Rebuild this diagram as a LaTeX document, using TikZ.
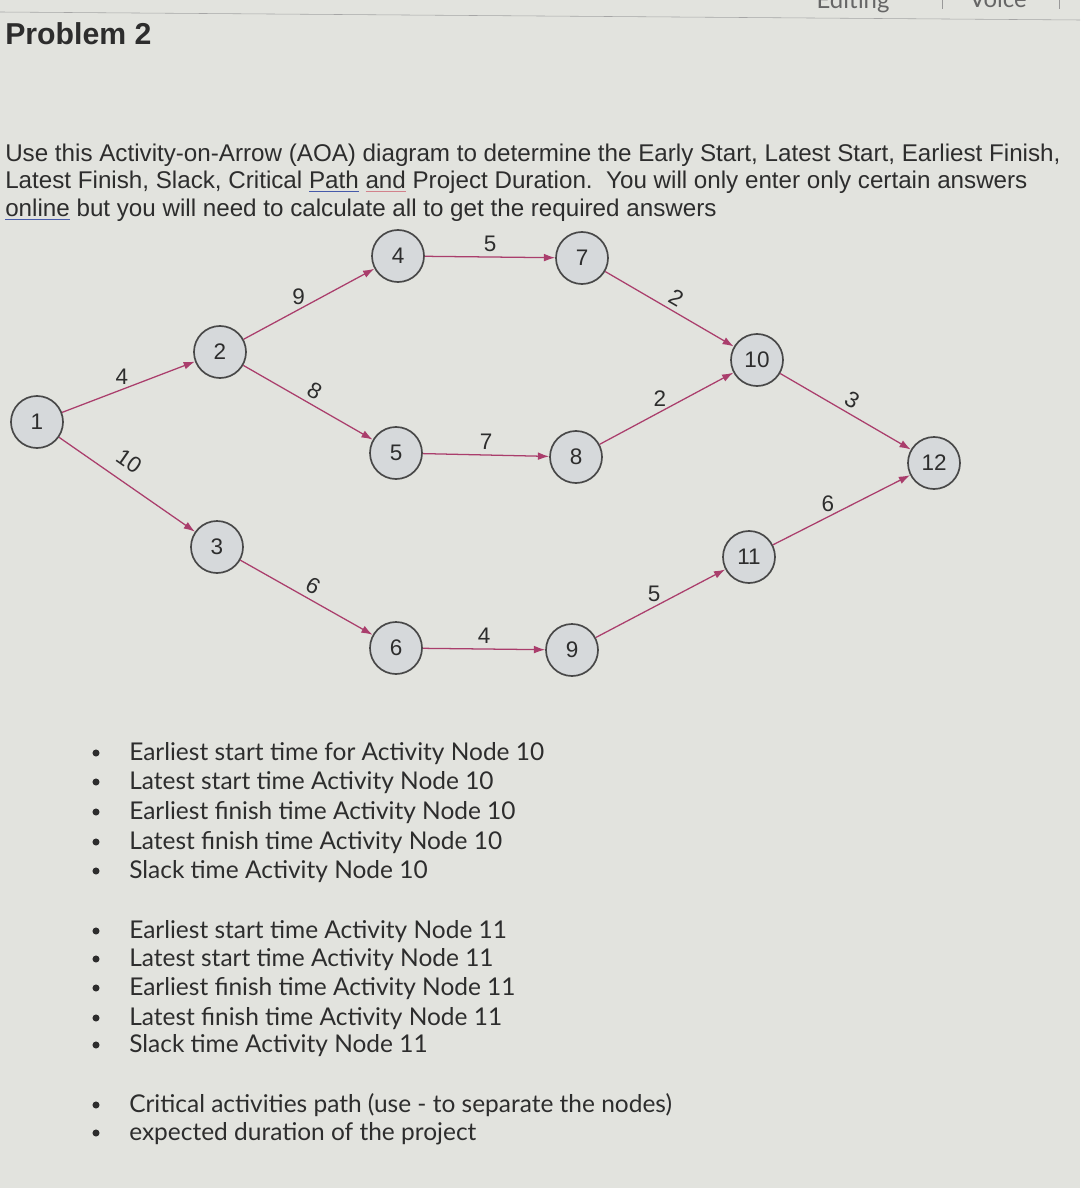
\documentclass[tikz,border=0pt]{standalone}
\usepackage{fontspec}
\setmainfont{Liberation Sans}
\newfontfamily\latofont{Lato}
\usetikzlibrary{arrows.meta}
\definecolor{paper}{RGB}{226,227,222}
\definecolor{nodefill}{RGB}{214,217,219}
\definecolor{nodeedge}{RGB}{72,72,72}
\definecolor{aoared}{RGB}{170,62,108}
\definecolor{textgray}{RGB}{45,45,45}
\definecolor{ulblue}{RGB}{70,90,170}
\definecolor{ulred}{RGB}{210,130,140}
\newcommand{\spellmark}[2]{{\color{#1}\underline{\textcolor{textgray}{#2}}}}
\tikzset{
  event/.style={circle,draw=nodeedge,fill=nodefill,line width=1.2pt,minimum size=1.3cm,inner sep=0pt,font=\fontsize{16}{16}\selectfont,text=textgray},
  act/.style={-{Latex[length=8pt,width=5.5pt]},draw=aoared,line width=0.9pt},
  dur/.style={font=\fontsize{16}{16}\selectfont,text=textgray},
  para/.style={anchor=base west,inner sep=0pt,font=\fontsize{17.2}{20}\selectfont,text=textgray},
  item/.style={anchor=base west,inner sep=0pt,font=\latofont\fontsize{17.4}{20}\selectfont,text=textgray},
  bullet/.style={circle,fill=textgray,inner sep=0pt,minimum size=5pt}
}
\begin{document}
\begin{tikzpicture}[x=0.025cm,y=-0.025cm]
\fill[paper] (0,0) rectangle (1080,1188);
\clip (0,0) rectangle (1080,1188);
\useasboundingbox (0,0) rectangle (1080,1188);

% screen header
\draw[black!35] (0,12) -- (1080,20);
\node[anchor=base,font=\latofont\fontsize{17}{18}\selectfont,text=black!60] (editing) at (853,9) {Editing};
\node[anchor=base,font=\latofont\fontsize{17}{18}\selectfont,text=black!60] (voice) at (998,8) {Voice};
\draw[black!40] (942,0) -- (942,9);
\draw[black!40] (1059,0) -- (1059,9);

% title and question
\node[anchor=base west,inner sep=0pt,font=\bfseries\fontsize{21.5}{24}\selectfont,text=textgray] (title) at (5,45) {Problem 2};
\node[para] (line1) at (5,162) {Use this Activity-on-Arrow (AOA) diagram to determine the Early Start, Latest Start, Earliest Finish,};
\node[para] (line2) at (5,189) {Latest Finish, Slack, Critical \spellmark{ulblue}{Path} \spellmark{ulred}{and} Project Duration.\ \ You will only enter only certain answers};
\node[para] (line3) at (5,217) {\spellmark{ulblue}{online} but you will need to calculate all to get the required answers};

% events
\node[event] (n1) at (37,422) {1};
\node[event] (n2) at (220,352) {2};
\node[event] (n3) at (217,547) {3};
\node[event] (n4) at (398,256) {4};
\node[event] (n5) at (396,453) {5};
\node[event] (n6) at (396,648) {6};
\node[event] (n7) at (582,258) {7};
\node[event] (n8) at (576,457) {8};
\node[event] (n9) at (572,650) {9};
\node[event] (n10) at (757,360) {10};
\node[event] (n11) at (749,557) {11};
\node[event] (n12) at (934,463) {12};

% activities
\draw[act] (n1) -- node[dur,above,pos=0.45] {4} (n2);
\draw[act] (n1) -- node[dur,above=5pt,sloped,pos=0.43] {10} (n3);
\draw[act] (n2) -- node[dur,above,pos=0.42] {9} (n4);
\draw[act] (n2) -- node[dur,above,sloped] {8} (n5);
\draw[act] (n3) -- node[dur,above,sloped] {6} (n6);
\draw[act] (n4) -- node[dur,above] {5} (n7);
\draw[act] (n5) -- node[dur,above] {7} (n8);
\draw[act] (n6) -- node[dur,above] {4} (n9);
\draw[act] (n7) -- node[dur,above,sloped] {2} (n10);
\draw[act] (n8) -- node[dur,above,pos=0.45] {2} (n10);
\draw[act] (n9) -- node[dur,above,pos=0.45] {5} (n11);
\draw[act] (n10) -- node[dur,above,sloped] {3} (n12);
\draw[act] (n11) -- node[dur,above,pos=0.4] {6} (n12);

% questions
\foreach \i/\y/\t in {1/760/Earliest start time for Activity Node 10,
                      2/789/Latest start time Activity Node 10,
                      3/819/Earliest finish time Activity Node 10,
                      4/849/Latest finish time Activity Node 10,
                      5/878/Slack time Activity Node 10,
                      6/938/Earliest start time Activity Node 11,
                      7/966/Latest start time Activity Node 11,
                      8/995/Earliest finish time Activity Node 11,
                      9/1025/Latest finish time Activity Node 11,
                      10/1052/Slack time Activity Node 11,
                      11/1112/Critical activities path (use - to separate the nodes),
                      12/1140/expected duration of the project}
{
  \node[bullet] (dot\i) at (96,\y-7) {};
  \node[item] (q\i) at (129,\y) {\t};
}
\end{tikzpicture}
\end{document}
